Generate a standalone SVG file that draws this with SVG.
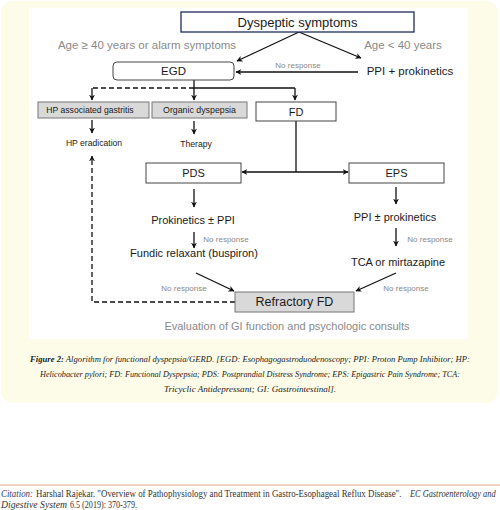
<svg xmlns="http://www.w3.org/2000/svg" width="500" height="510" viewBox="0 0 500 510">
<defs>
<marker id="ah" viewBox="0 0 10 10" refX="9" refY="5" markerWidth="6" markerHeight="6" orient="auto-start-reverse" markerUnits="userSpaceOnUse">
<path d="M0,0 L10,5 L0,10 L3,5 z" fill="#111"/>
</marker>
<style>
.t{font-family:"Liberation Sans",Arial,sans-serif;fill:#1a1a1a;text-anchor:middle;dominant-baseline:central}
.g{fill:#8a8a8a}
.nr{font-size:8px;fill:#8a8a8a}
.box{fill:#fff;stroke:#444;stroke-width:1}
.gbox{fill:#d9d9d9;stroke:#777;stroke-width:1}
.c{stroke:#111;stroke-width:1.3;fill:none}
.a{marker-end:url(#ah)}
.d{stroke-dasharray:5,3}
.cap{font-family:"Liberation Serif","Times New Roman",serif;font-style:italic;font-size:8.6px;fill:#222;text-anchor:middle}
.cit{font-family:"Liberation Serif","Times New Roman",serif;font-size:10px;fill:#333}
.it{font-style:italic}
</style>
</defs>
<rect x="1" y="1" width="497" height="402" rx="12" fill="#fdfce8"/>
<rect x="29" y="8" width="439" height="331" fill="#fff"/>

<g id="connectors">
<line class="c a" x1="299" y1="32" x2="237" y2="61"/>
<line class="c a" x1="299" y1="32" x2="361" y2="58"/>
<line class="c a" x1="358" y1="72" x2="236" y2="72"/>
<line class="c" x1="194" y1="80" x2="194" y2="88"/>
<line class="c a" x1="194" y1="88" x2="194" y2="100"/>
<polyline class="c d" points="194,88 92,88"/>
<line class="c a" x1="92" y1="88" x2="92" y2="100"/>
<polyline class="c" points="194,88 295,88"/>
<line class="c a" x1="295" y1="88" x2="295" y2="100"/>
<line class="c a" x1="92" y1="120" x2="92" y2="133"/>
<line class="c a" x1="194" y1="121" x2="194" y2="134"/>
<line class="c" x1="296" y1="121" x2="296" y2="172"/>
<line class="c a" x1="296" y1="172" x2="242" y2="172"/>
<line class="c a" x1="296" y1="172" x2="348" y2="172"/>
<line class="c a" x1="194" y1="189" x2="194" y2="207"/>
<line class="c a" x1="194" y1="232" x2="194" y2="248"/>
<line class="c a" x1="396" y1="187" x2="396" y2="204"/>
<line class="c a" x1="396" y1="228" x2="396" y2="246"/>
<line class="c a" x1="196" y1="273" x2="234" y2="291"/>
<line class="c a" x1="396" y1="273" x2="356" y2="291"/>
<polyline class="c d a" points="235,302 92,302 92,156"/>
</g>

<g id="n-dyspeptic"><rect x="181" y="12" width="233" height="20" fill="#fff" stroke="#1f2d5c" stroke-width="1.3"/><text class="t" x="297.5" y="22" font-size="13">Dyspeptic symptoms</text></g>
<g id="l-age40"><text class="t g" x="147" y="45" font-size="11.5">Age ≥ 40 years or alarm symptoms</text></g>
<g id="l-agelt40"><text class="t g" x="403" y="45" font-size="11.5">Age &lt; 40 years</text></g>
<g id="n-egd"><rect class="box" x="113" y="62" width="121" height="18" rx="4"/><text class="t" x="173.5" y="71" font-size="11.5">EGD</text></g>
<g id="l-nr1"><text class="t nr" x="298" y="65">No response</text></g>
<g id="n-ppi"><text class="t" x="410" y="71" font-size="11.5">PPI + prokinetics</text></g>
<g id="n-hpg"><rect class="gbox" x="38" y="102" width="111" height="16"/><text class="t" x="90" y="110" font-size="8.6">HP associated gastritis</text></g>
<g id="n-org"><rect class="gbox" x="152" y="102" width="95" height="16"/><text class="t" x="199.5" y="110" font-size="8.8">Organic dyspepsia</text></g>
<g id="n-fd"><rect class="box" x="256" y="102" width="80" height="19"/><text class="t" x="296" y="111.5" font-size="11">FD</text></g>
<g id="n-hper"><text class="t" x="94" y="143" font-size="8.6">HP eradication</text></g>
<g id="n-therapy"><text class="t" x="196" y="144" font-size="8.6">Therapy</text></g>
<g id="n-pds"><rect class="box" x="146" y="163" width="95" height="20"/><text class="t" x="193.5" y="173" font-size="11">PDS</text></g>
<g id="n-eps"><rect class="box" x="349" y="163" width="95" height="20"/><text class="t" x="396.5" y="173" font-size="11">EPS</text></g>
<g id="n-prok"><text class="t" x="193" y="220" font-size="11">Prokinetics ± PPI</text></g>
<g id="l-nr2"><text class="t nr" x="226" y="239">No response</text></g>
<g id="n-fundic"><text class="t" x="194" y="253" font-size="11">Fundic relaxant (buspiron)</text></g>
<g id="n-ppip"><text class="t" x="395" y="217" font-size="11">PPI ± prokinetics</text></g>
<g id="l-nr3"><text class="t nr" x="430" y="239">No response</text></g>
<g id="n-tca"><text class="t" x="398" y="262" font-size="11">TCA or mirtazapine</text></g>
<g id="l-nr4"><text class="t nr" x="184" y="288">No response</text></g>
<g id="l-nr5"><text class="t nr" x="406" y="288">No response</text></g>
<g id="n-refr"><rect class="gbox" x="235" y="292" width="119" height="20"/><text class="t" x="294.5" y="302" font-size="12.5">Refractory FD</text></g>
<g id="n-eval"><text class="t g" x="287" y="326" font-size="11">Evaluation of GI function and psychologic consults</text></g>

<text class="cap" x="250" y="362" textLength="440" lengthAdjust="spacingAndGlyphs"><tspan font-weight="bold">Figure 2:</tspan> Algorithm for functional dyspepsia/GERD. [EGD: Esophagogastroduodenoscopy; PPI: Proton Pump Inhibitor; HP:</text>
<text class="cap" x="250" y="377" textLength="420" lengthAdjust="spacingAndGlyphs">Helicobacter pylori; FD: Functional Dyspepsia; PDS: Postprandial Distress Syndrome; EPS: Epigastric Pain Syndrome; TCA:</text>
<text class="cap" x="250" y="392" textLength="172" lengthAdjust="spacingAndGlyphs">Tricyclic Antidepressant; GI: Gastrointestinal].</text>

<line x1="0" y1="485" x2="500" y2="485" stroke="#e9a582" stroke-width="1"/>
<g transform="scale(0.84,1)">
<text class="cit it" x="1.2" y="497" style="fill:#2b3a6b" textLength="38" lengthAdjust="spacingAndGlyphs">Citation:</text>
<text class="cit" x="42.9" y="497" textLength="435" lengthAdjust="spacingAndGlyphs">Harshal Rajekar. "Overview of Pathophysiology and Treatment in Gastro-Esophageal Reflux Disease".</text>
<text class="cit it" x="488" y="497" textLength="102" lengthAdjust="spacingAndGlyphs">EC Gastroenterology and</text>
<text class="cit it" x="1.2" y="508" textLength="78.6" lengthAdjust="spacingAndGlyphs">Digestive System</text>
<text class="cit" x="83.3" y="508" textLength="79.8" lengthAdjust="spacingAndGlyphs">6.5 (2019): 370-379.</text>
</g>
</svg>
